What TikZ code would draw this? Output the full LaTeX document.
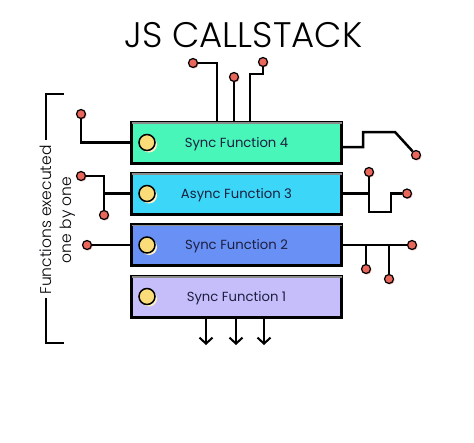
\documentclass[tikz,border=0pt]{standalone}
\usepackage{fontspec}
\setmainfont{Poppins}
\newfontfamily\titlefont{Poppins Light}
\usetikzlibrary{arrows.meta,shadows}
\definecolor{mint}{HTML}{48F6BA}
\definecolor{cyanb}{HTML}{3CD6F8}
\definecolor{blueb}{HTML}{6990F4}
\definecolor{lav}{HTML}{C6BEFA}
\definecolor{dotred}{HTML}{E8665A}
\definecolor{dotsh}{HTML}{F6A8A0}
\definecolor{yel}{HTML}{FADC78}
\definecolor{yelsh}{HTML}{FFF1C8}
\definecolor{navy}{HTML}{1C1F3F}
\tikzset{
  fbox/.style={draw=black, line width=3pt, minimum width=210pt, minimum height=41pt,
    inner sep=0pt, text height=9.3pt, text depth=0pt, text=navy, font=\fontsize{13.2}{15}\selectfont},
  bulb/.style={circle, draw=black, line width=1.5pt, fill=yel, minimum size=16pt, inner sep=0pt,
    general shadow={shadow xshift=2pt, shadow yshift=-2pt, fill=yelsh}},
  dot/.style={circle, draw=black, line width=1.2pt, fill=dotred, minimum size=9pt, inner sep=0pt,
    general shadow={shadow xshift=1pt, shadow yshift=-1pt, fill=dotsh}},
  wire/.style={draw=black, line width=2.5pt},
  downarrow/.style={draw=black, line width=2pt, -{Straight Barb[length=6pt,width=13pt]}},
  brk/.style={draw=black, line width=2pt},
  shine/.style={draw=white, opacity=0.55, line width=1.5pt},
}
\begin{document}
\begin{tikzpicture}[x=1pt,y=-1pt]
\useasboundingbox[fill=white] (0,0) rectangle (474,442);
% title
\node[font=\titlefont\fontsize{35.5}{40}\selectfont, text=black] (title) at (243.5,35) {JS CALLSTACK};
% boxes
\node[fbox, fill=mint] (b4) at (236.5,142.5) {Sync Function 4};
\node[fbox, fill=cyanb] (b3) at (236.5,193.5) {Async Function 3};
\node[fbox, fill=blueb] (b2) at (236.5,245) {Sync Function 2};
\node[fbox, fill=lav] (b1) at (236.5,296.5) {Sync Function 1};
\foreach \b in {b4,b3,b2,b1}
  \draw[shine] ([xshift=1.5pt,yshift=-2.25pt]\b.north west) -- ([xshift=-1.5pt,yshift=-2.25pt]\b.north east);
% bulbs
\node[bulb] (c4) at (147,142.5) {};
\node[bulb] (c3) at (147,193.5) {};
\node[bulb] (c2) at (147,245) {};
\node[bulb] (c1) at (147,296.5) {};
% dots
\node[dot] (dT1) at (193,63) {};
\node[dot] (dT2) at (234,77) {};
\node[dot] (dT3) at (263,62) {};
\node[dot] (dL4) at (81,114) {};
\node[dot] (dR4) at (416,155) {};
\node[dot] (dL3a) at (81,176) {};
\node[dot] (dL3b) at (104,215) {};
\node[dot] (dR3a) at (369,172) {};
\node[dot] (dR3b) at (407,193.5) {};
\node[dot] (dL2) at (87,245) {};
\node[dot] (dR2a) at (412,245) {};
\node[dot] (dR2b) at (366,269) {};
\node[dot] (dR2c) at (389,279) {};
% wires box 4
\draw[wire] (dT1) -| ([xshift=-19.5pt]b4.north);
\draw[wire] (dT2) -- (dT2 |- b4.north);
\draw[wire] ([xshift=13.5pt]b4.north) |- (263,74) -- (dT3);
\draw[wire] (dL4) |- (b4.west);
\draw[wire] ([yshift=-4.5pt]b4.east) -- (363,147) -- (363,132) -- (395,132) -- (dR4);
% wires box 3
\draw[wire] (dL3a) -| (dL3b);
\draw[wire] (b3.west) -- (104,193.5);
\draw[wire] (b3.east) -- (369,193.5);
\draw[wire] (dR3a) -- (369,212) -- (391,212) -- (391,193.5) -- (dR3b);
% wires box 2
\draw[wire] (dL2) -- (b2.west);
\draw[wire] (b2.east) -- (dR2a);
\draw[wire] (dR2b) -- (366,245);
\draw[wire] (dR2c) -- (389,245);
% arrows
\coordinate (a1) at (206,345);
\coordinate (a2) at (236,345);
\coordinate (a3) at (264,345);
\draw[downarrow] (a1 |- b1.south) -- (a1);
\draw[downarrow] (a2 |- b1.south) -- (a2);
\draw[downarrow] (a3 |- b1.south) -- (a3);
% bracket and label
\node[rotate=90, align=center, text=black!85!navy, font=\titlefont\fontsize{15.5}{20}\selectfont] (lbl) at (57.5,220) {Functions executed\\one by one};
\coordinate (bt) at (46,94);
\coordinate (bb) at (46,343);
\draw[brk] (64,94) -- (bt) -- (46,140);
\draw[brk] (46,298) -- (bb) -- (64,343);
\end{tikzpicture}
\end{document}
